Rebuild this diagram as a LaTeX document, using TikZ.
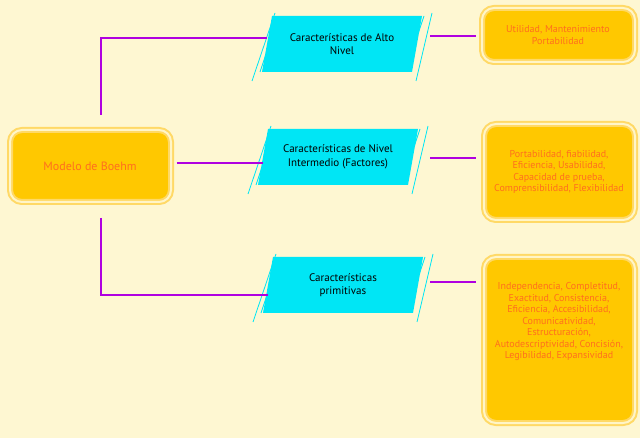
\documentclass[tikz,border=0pt]{standalone}
\usepackage{fontspec}
\setmainfont{PT Sans}
\begin{document}
\begin{tikzpicture}[x=1pt,y=-1pt,
  conn/.style={draw=purple!70!violet,line width=1.2pt,color={rgb,255:red,176;green,0;blue,224}},
  obox/.style={draw={rgb,255:red,255;green,217;blue,102},line width=2pt,fill={rgb,255:red,255;green,200;blue,0},rounded corners=12pt,double={rgb,255:red,255;green,245;blue,200},double distance=2pt},
  otext/.style={text={rgb,255:red,255;green,110;blue,30},font=\fontsize{10}{11.5}\selectfont,align=center},
  ptext/.style={font=\fontsize{11}{13.5}\selectfont,align=center,minimum width=150pt,minimum height=55pt}]
\definecolor{bg}{RGB}{254,247,210}
\definecolor{cy}{RGB}{0,230,245}
\fill[bg] (0,0) rectangle (640,438);
\useasboundingbox (0,0) rectangle (640,438);
% main
\draw[obox] (10,130) rectangle (171,202);
\node[otext,font=\fontsize{12}{14}\selectfont,minimum width=161pt,minimum height=72pt] (m) at (90,166) {Modelo de Boehm};
% parallelograms
\newcommand\para[4]{%
 \fill[cy] (#2-75+5,#3-28) -- (#2+75+5,#3-28) -- (#2+75-5,#3+28) -- (#2-75-5,#3+28) -- cycle;
 \draw[cy,line width=0.8pt] (#2-90,#3+37) -- (#2-67,#3-31);
 \draw[cy,line width=0.8pt] (#2-82,#3+28) -- (#2-76,#3+10);
 \draw[cy,line width=0.8pt] (#2+74,#3+37) -- (#2+90,#3-31);
 \draw[cy,line width=0.8pt] (#2+76,#3-10) -- (#2+82,#3-28);
 \node[ptext] (#1) at (#2,#3) {#4};}
\para{p1}{342}{44}{Características de Alto\\Nivel}
\para{p2}{338}{157}{Características de Nivel\\Intermedio (Factores)}
\para{p3}{343}{285}{Características\\primitivas}
% right boxes
\draw[obox] (482,8) rectangle (635,62);
\node[otext,minimum width=153pt,minimum height=54pt] (r1) at (558,35) {Utilidad, Mantenimiento\\Portabilidad};
\draw[obox] (484,124) rectangle (635,220);
\node[otext,minimum width=151pt,minimum height=96pt] (r2) at (559,172) {Portabilidad, fiabilidad,\\Eficiencia, Usabilidad,\\Capacidad de prueba,\\Comprensibilidad, Flexibilidad};
\draw[obox] (484,257) rectangle (635,423);
\node[otext,minimum width=151pt,minimum height=166pt] (r3) at (559,322) {Independencia, Completitud,\\Exactitud, Consistencia,\\Eficiencia, Accesibilidad,\\Comunicatividad,\\Estructuración,\\Autodescriptividad, Concisión,\\Legibilidad, Expansividad};
% connectors
\coordinate (t1) at (101,38);
\coordinate (t3) at (101,295);
\draw[conn] (101,115) -- (t1) -- (p1.west |- t1);
\draw[conn] (101,218) -- (t3) -- (p3.west |- t3);
\draw[conn] (m.east) ++(6,-3) -- (p2.west |- 0,163);
\draw[conn] (430,36) -- (476,36);
\draw[conn] (430,158) -- (476,158);
\draw[conn] (430,282) -- (476,282);
\end{tikzpicture}
\end{document}
